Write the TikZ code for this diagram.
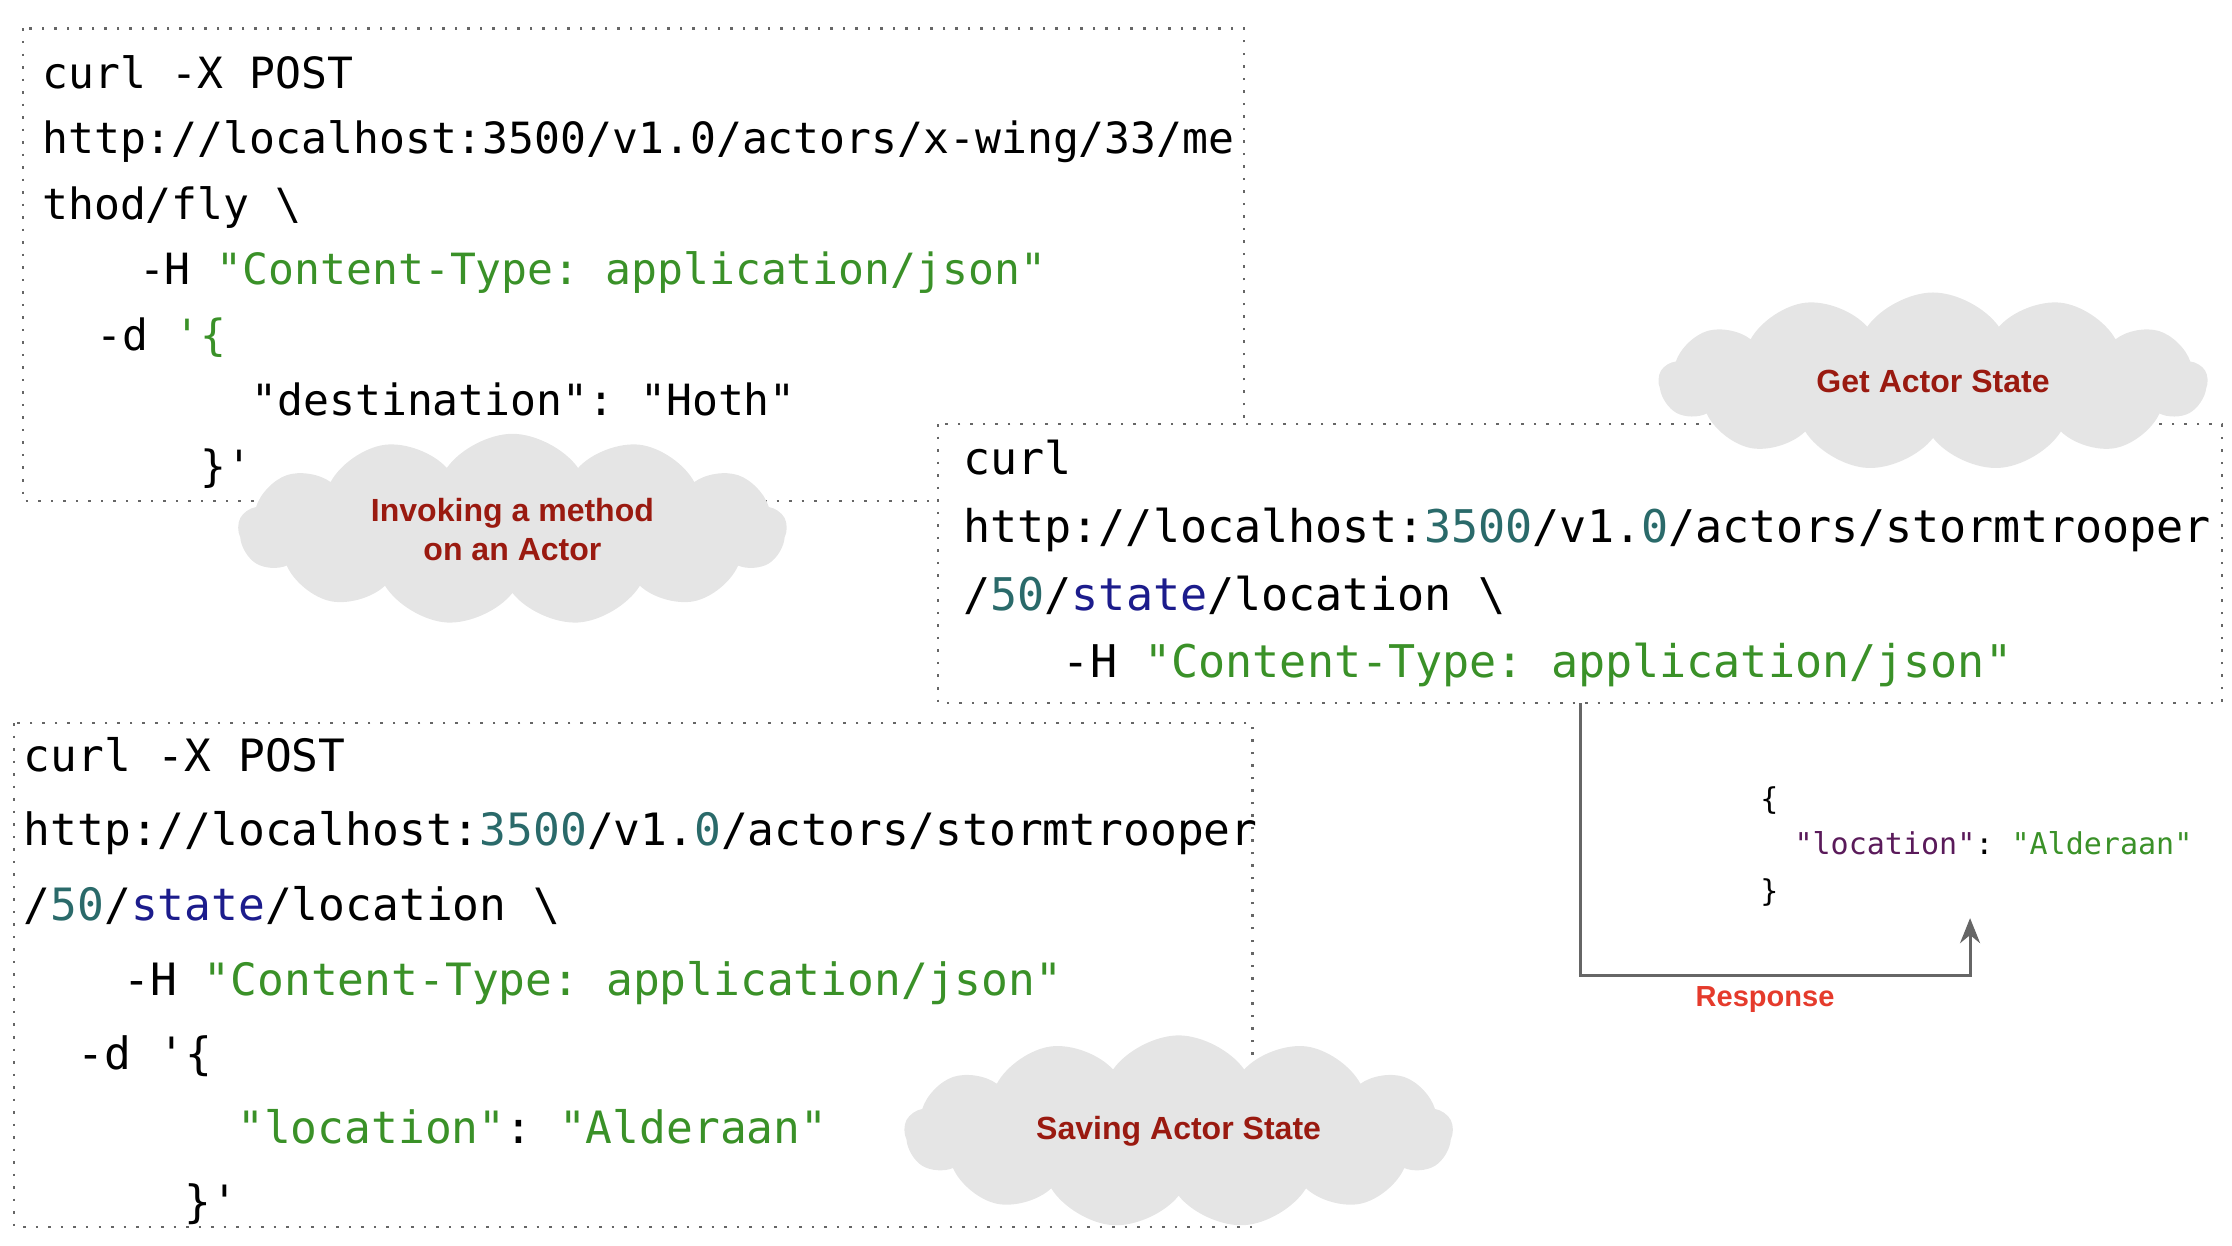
\documentclass[tikz,border=0pt]{standalone}
\usepackage{fontspec}
\setmainfont{Liberation Sans}
\newfontfamily\mono{DejaVu Sans Mono}
\usetikzlibrary{shapes.symbols,arrows.meta}
\definecolor{cgreen}{HTML}{3A9128}
\definecolor{cteal}{HTML}{2A6A6A}
\definecolor{cnavy}{HTML}{1C1C8C}
\definecolor{cpurple}{HTML}{5A1A5A}
\definecolor{cred}{HTML}{9A1A10}
\definecolor{cresp}{HTML}{E53B2C}
\newcommand{\G}[1]{\textcolor{cgreen}{#1}}
\newcommand{\T}[1]{\textcolor{cteal}{#1}}
\newcommand{\N}[1]{\textcolor{cnavy}{#1}}
\frenchspacing
\begin{document}
\begin{tikzpicture}[x=0.01cm,y=-0.01cm,
  box/.style={draw=black!60,dotted,line width=0.5pt},
  ta/.style={anchor=base west,inner sep=0,font=\mono\fontsize{8.6}{10}\selectfont},
  tb/.style={anchor=base west,inner sep=0,font=\mono\fontsize{9}{10}\selectfont},
  tc/.style={anchor=base west,inner sep=0,font=\mono\fontsize{8.9}{10}\selectfont},
  cl/.style={cloud,cloud puffs=13,cloud puff arc=110,aspect=3.2,fill=black!10,draw=none,
    minimum width=3.85cm,minimum height=1.25cm,align=center,text=cred,
    font=\bfseries\fontsize{6.4}{7.6}\selectfont},
  js/.style={anchor=base west,inner sep=0,font=\mono\fontsize{6}{7}\selectfont}]
\useasboundingbox (0,0) rectangle (1568,875);
% box 1
\draw[box] (16,20) rectangle (874,352);
\node[ta] (a1) at (29,62) {curl -X POST};
\node[ta] (a2) at (29,108) {http://localhost:3500/v1.0/actors/x-wing/33/me};
\node[ta] (a3) at (29,154) {thod/fly \textbackslash};
\node[ta] (a4) at (97,200) {-H \G{"Content-Type: application/json"}};
\node[ta] (a5) at (67,246) {-d \G{'\{}};
\node[ta] (a6) at (176,292) {"destination": "Hoth"};
\node[ta] (a7) at (140,338) {\}'};
\node[cl] (c1) at (360,372) {Invoking a method\\on an Actor};
% box 2
\draw[box,fill=white] (659,298) rectangle (1561,494);
\node[cl] (c2) at (1358,268) {Get Actor State};
\node[tb] (b1) at (676,333) {curl};
\node[tb] (b2) at (676,381) {http://localhost:\T{3500}/v1.\T{0}/actors/stormtrooper};
\node[tb] (b3) at (676,429) {/\T{50}/\N{state}/location \textbackslash};
\node[tb] (b4) at (746,476) {-H \G{"Content-Type: application/json"}};
% box 3
\draw[box] (10,508) rectangle (880,862);
\node[tc] (d1) at (16,542) {curl -X POST};
\node[tc] (d2) at (16,594) {http://localhost:\T{3500}/v1.\T{0}/actors/stormtrooper};
\node[tc] (d3) at (16,647) {/\T{50}/\N{state}/location \textbackslash};
\node[tc] (d4) at (86,699) {-H \G{"Content-Type: application/json"}};
\node[tc] (d5) at (54,751) {-d '\{};
\node[tc] (d6) at (166,803) {\G{"location"}: \G{"Alderaan"}};
\node[tc] (d7) at (129,855) {\}'};
\node[cl] (c3) at (828,795) {Saving Actor State};
% response
\node[js] (j1) at (1236,569) {\{};
\node[js] (j2) at (1260,600) {\textcolor{cpurple}{"location"}: \G{"Alderaan"}};
\node[js] (j3) at (1236,633) {\}};
\coordinate (r0) at (1110,494);
\coordinate (r1) at (1110,685);
\coordinate (r2) at (1384,685);
\coordinate (r3) at (1384,645);
\draw[black!60,line width=0.6pt,-{Stealth[length=5pt,width=4pt]}] (r0) -- (r1) -- (r2) -- (r3);
\node[text=cresp,font=\bfseries\fontsize{5.8}{6.8}\selectfont] (resp) at (1240,702) {Response};
\end{tikzpicture}
\end{document}
